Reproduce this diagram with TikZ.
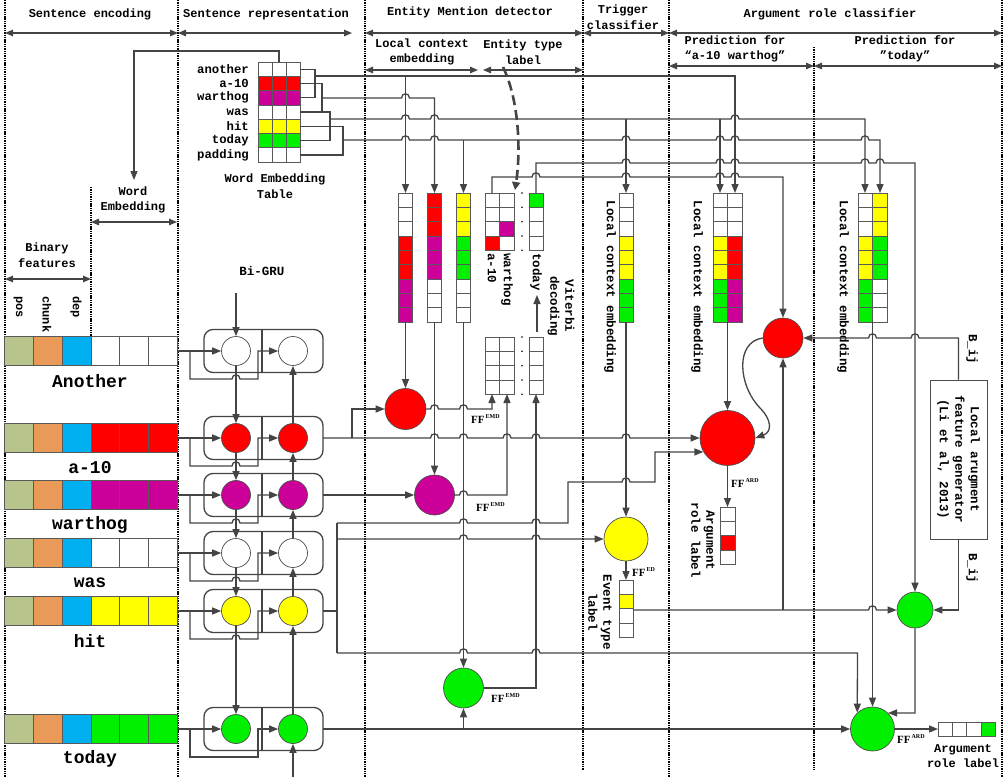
\documentclass[tikz,border=0pt]{standalone}
\usepackage{fontspec}
\setmainfont{Liberation Mono}
\newfontfamily\ffserif{Liberation Serif}
\usetikzlibrary{arrows.meta}
\definecolor{lc}{RGB}{68,68,68}
\definecolor{rd}{RGB}{255,0,0}
\definecolor{mg}{RGB}{204,0,153}
\definecolor{yl}{RGB}{255,255,0}
\definecolor{gn}{RGB}{0,240,0}
\definecolor{ol}{RGB}{183,197,140}
\definecolor{og}{RGB}{233,153,88}
\definecolor{bl}{RGB}{0,176,240}
\definecolor{wh}{RGB}{255,255,255}
\newcommand\hbump[2]{-- (#1-4,#2) .. controls (#1-4,#2-5.5) and (#1+4,#2-5.5) .. (#1+4,#2)}
\newcommand\hbumpr[2]{-- (#1+4,#2) .. controls (#1+4,#2-5.5) and (#1-4,#2-5.5) .. (#1-4,#2)}
\newcommand\vecol[3]{\foreach \cc [count=\kk from 0] in {#3} {\filldraw[cellb,fill=\cc] (#1,#2+\kk*14.33) rectangle ++(14.5,14.33);}}
\newcommand\fflab[1]{{\ffserif\bfseries\fontsize{11}{12}\selectfont FF\raisebox{4.5pt}{\fontsize{6}{6}\selectfont\,#1}}}
\tikzset{
  ln/.style={draw=lc, line width=1.3pt},
  ar/.style={ln, -{Triangle[length=9pt,width=7pt]}},
  dar/.style={ln, {Triangle[length=8pt,width=6.5pt]}-{Triangle[length=8pt,width=6.5pt]}},
  sep/.style={draw=black, line width=2.4pt, dash pattern=on 1.4pt off 0.9pt},
  cellb/.style={draw=black!65, line width=0.7pt},
  circ/.style={circle, draw=black!70, line width=0.7pt, inner sep=0pt},
  hdr/.style={font=\fontsize{12}{15.5}\selectfont\bfseries, align=center, inner sep=0pt},
  tlab/.style={font=\fontsize{12.3}{14}\selectfont\bfseries, inner sep=0pt},
  rlab/.style={font=\fontsize{12.5}{15}\selectfont\bfseries, align=center, rotate=-90, inner sep=0pt},
  wlab/.style={font=\fontsize{18}{20}\selectfont\bfseries, inner sep=0pt},
  ff/.style={anchor=west, inner sep=0pt},
}
\begin{document}
\begin{tikzpicture}[x=1pt,y=-1pt]
\useasboundingbox (0,0) rectangle (1005,777);
\fill[white] (0,0) rectangle (1005,777);
% separators
\draw[sep] (5,0) -- (5,777);
\draw[sep] (178,0) -- (178,777);
\draw[sep] (365,0) -- (365,777);
\draw[sep] (583,0) -- (583,770);
\draw[sep] (669,0) -- (669,777);
\draw[sep] (814,47) -- (814,770);
\draw[sep] (1002,0) -- (1002,777);
\draw[sep] (91,187) -- (91,336);
% headers
\node[hdr] (h1) at (90,14) {Sentence encoding};
\draw[dar] (5,33) -- (178,33);
\node[hdr] (h2) at (266,14) {Sentence representation};
\draw[dar] (178,33) -- (352,33);
\node[hdr] (h3) at (470,12) {Entity Mention detector};
\draw[dar] (365,33) -- (583,33);
\node[hdr] (h4) at (422,52) {Local context\\embedding};
\draw[dar] (365,70) -- (478,70);
\node[hdr] (h5) at (523,52) {Entity type\\label};
\draw[dar] (483,70) -- (583,70);
\node[hdr] (h6) at (623,17) {Trigger\\classifier};
\draw[dar] (583,33) -- (669,33);
\node[hdr] (h7) at (830,14) {Argument role classifier};
\draw[dar] (669,33) -- (1002,33);
\node[hdr] (h8) at (735,49) {Prediction for\\“a-10 warthog”};
\draw[dar] (669,66) -- (814,66);
\node[hdr] (h9) at (905,49) {Prediction for\\”today”};
\draw[dar] (814,66) -- (1002,66);
\node[hdr] (h10) at (133,200) {Word\\Embedding};
\draw[dar] (91,222) -- (177,222);
\node[hdr] (h11) at (47,255) {Binary\\features};
\draw[dar] (5,279) -- (91,279);
\node[rlab,anchor=west,font=\fontsize{12}{14}\selectfont\bfseries] (fpos) at (18,296) {pos};
\node[rlab,anchor=west,font=\fontsize{12}{14}\selectfont\bfseries] (fchk) at (47,296) {chunk};
\node[rlab,anchor=west,font=\fontsize{12}{14}\selectfont\bfseries] (fdep) at (76,296) {dep};
% word embedding table
\foreach \cl [count=\k from 0] in {wh,rd,mg,wh,yl,gn,wh} {
  \foreach \xx in {258,272,286} {\filldraw[cellb,fill=\cl] (\xx,62+\k*14.3) rectangle ++(14,14.3);}
}
\foreach \tw [count=\k from 0] in {another,a-10,warthog,was,hit,today,padding}
  {\node[tlab,anchor=east] (tw\k) at (249,69.15+\k*14.3) {\tw};}
\node[hdr] (wet) at (275,186) {Word Embedding\\Table};
\draw[ln] (300,69.2) -- (315,69.2) -- (315,97.8) -- (300,97.8);
\draw[ln] (300,83.5) -- (322,83.5) -- (322,112.1) -- (300,112.1);
\draw[ln] (300,112.1) -- (330,112.1) -- (330,140.7) -- (300,140.7);
\draw[ln] (300,126.4) -- (343,126.4) -- (343,155) -- (300,155);
\draw[ar] (279,62) -- (279,51) -- (134,51) -- (134,180);
% long feed lines
\draw[ar] (315,76) -- (735,76) -- (735,193);
\draw[ar] (405.5,76) -- (405.5,193);
\draw[ar] (322,98) \hbump{405.5}{98} -- (434.5,98) -- (434.5,193);
\draw[ar] (330,119) \hbump{405.5}{119} \hbump{434.5}{119} \hbump{735}{119} -- (865,119) -- (865,193);
\draw[ar] (626,119) -- (626,193);
\draw[ar] (720,119) -- (720,193);
\draw[ar] (343,140) \hbump{405.5}{140} \hbump{434.5}{140} \hbump{626}{140} \hbump{720}{140} \hbump{735}{140} \hbump{865}{140} -- (880,140) -- (880,193);
\draw[ar] (463.5,140) -- (463.5,193);
% sentence encoding rows + GRU
\foreach \yc/\nm/\cl/\w in {351/an/wh/Another, 438/aa/rd/a-10, 495/wa/mg/warthog, 553/ws/wh/was, 611/hi/yl/hit, 729/to/gn/today} {
  \filldraw[cellb,fill=ol] (4,\yc-14.5) rectangle (33,\yc+14.5);
  \filldraw[cellb,fill=og] (33,\yc-14.5) rectangle (62,\yc+14.5);
  \filldraw[cellb,fill=bl] (62,\yc-14.5) rectangle (91,\yc+14.5);
  \filldraw[cellb,fill=\cl] (91,\yc-14.5) rectangle (119.5,\yc+14.5);
  \filldraw[cellb,fill=\cl] (119.5,\yc-14.5) rectangle (148,\yc+14.5);
  \filldraw[cellb,fill=\cl] (148,\yc-14.5) rectangle (177,\yc+14.5);
  \node[wlab] (w\nm) at (90,\yc+30) {\w};
  \draw[ln,rounded corners=9pt] (204,\yc-21.5) rectangle (323,\yc+21.5);
  \draw[ln] (262,\yc-21.5) -- (262,\yc+21.5);
  \node[circ,fill=\cl,minimum size=29pt] (L\nm) at (236,\yc) {};
  \node[circ,fill=\cl,minimum size=29pt] (R\nm) at (293,\yc) {};
  \draw[ar] (177,\yc) -- (L\nm.west);
}
\foreach \yc/\nm in {351/an, 438/aa, 495/wa, 553/ws, 611/hi} {
  \draw[ar] (190,\yc) -- (190,\yc+28) \hbump{236}{\yc+28} -- (258,\yc+28) -- (258,\yc) -- (R\nm.west);
}
\draw[ar] (190,729) -- (190,757) -- (258,757) -- (258,729) -- (Rto.west);
\node[hdr,font=\fontsize{12.5}{14}\selectfont\bfseries] (bigru) at (262,271) {Bi-GRU};
\draw[ar] (236,293) -- (Lan.north);
\draw[ar] (Lan.south) -- (Laa.north);
\draw[ar] (Laa.south) -- (Lwa.north);
\draw[ar] (Lwa.south) -- (Lws.north);
\draw[ar] (Lws.south) -- (Lhi.north);
\draw[ar] (Lhi.south) -- (Lto.north);
\draw[ar] (293,777) -- (Rto.south);
\draw[ar] (Rto.north) -- (Rhi.south);
\draw[ar] (Rhi.north) -- (Rws.south);
\draw[ar] (Rws.north) -- (Rwa.south);
\draw[ar] (Rwa.north) -- (Raa.south);
\draw[ar] (Raa.north) -- (Ran.south);
% EMD vectors
\vecol{398}{193}{wh,wh,wh,rd,rd,rd,mg,mg,mg}
\vecol{427}{193}{rd,rd,rd,mg,mg,mg,wh,wh,wh}
\vecol{456}{193}{yl,yl,yl,gn,gn,gn,wh,wh,wh}
% entity type matrices
\vecol{485}{193}{wh,wh,wh,rd}
\vecol{499.5}{193}{wh,wh,mg,wh}
\vecol{529}{193}{gn,wh,wh,wh}
\vecol{485}{337}{wh,wh,wh,wh}
\vecol{499.5}{337}{wh,wh,wh,wh}
\vecol{529}{337}{wh,wh,wh,wh}
\foreach \k in {0,...,4} {\fill[black] (522,193+\k*14.33) circle[radius=0.9pt]; \fill[black] (522,337+\k*14.33) circle[radius=0.9pt];}
\node[rlab,anchor=west] (la10) at (492,253) {a-10};
\node[rlab,anchor=west] (lwar) at (507,253) {warthog};
\node[rlab,anchor=west] (ltod) at (536,253) {today};
\node[rlab] (vit) at (561,306) {Viterbi\\decoding};
\draw[ar] (537,332) -- (537,295);
\draw[lc, line width=2.6pt, dash pattern=on 10pt off 5pt, -{Triangle[length=8pt,width=8pt]}] (503,67) .. controls (519,100) and (521,150) .. (515,190);
% EMD circles
\node[circ,fill=rd,minimum size=41pt] (re) at (405.5,409) {};
\node[circ,fill=mg,minimum size=40pt] (me) at (434.5,495) {};
\node[circ,fill=gn,minimum size=40pt] (ge) at (463.5,688) {};
\draw[ar] (405.5,322) -- (re.north);
\draw[ar] (434.5,322) -- (me.north);
\draw[ar] (463.5,322) -- (ge.north);
\draw[ar] (re.east) \hbump{434.5}{409} \hbump{463.5}{409} -- (492,409) -- (492,394);
\draw[ar] (me.east) \hbump{463.5}{495} -- (507,495) -- (507,394);
\draw[ar] (ge.east) -- (536,688) -- (536,394);
\node[ff] (ff1) at (471,419) {\fflab{EMD}};
\node[ff] (ff2) at (476,507) {\fflab{EMD}};
\node[ff] (ff3) at (491,698) {\fflab{EMD}};
% trigger
\vecol{619}{193}{wh,wh,wh,yl,yl,yl,gn,gn,gn}
\node[rlab] (lce1) at (610,287) {Local context embedding};
\node[circ,fill=yl,minimum size=44pt] (yt) at (626,539) {};
\draw[ar] (626,322) -- (yt.north);
\draw[ar] (yt.south) -- (626,580);
\vecol{619}{580}{wh,yl,wh,wh}
\node[ff] (ff4) at (632,572) {\fflab{ED}};
\node[rlab] (etl) at (600,612) {Event type\\label};
% argument classifier 1
\vecol{713}{193}{wh,wh,wh,yl,yl,yl,gn,gn,gn}
\vecol{727.5}{193}{wh,wh,wh,rd,rd,rd,mg,mg,mg}
\node[rlab] (lce2) at (697,287) {Local context embedding};
\node[circ,fill=rd,minimum size=55pt] (br) at (727.5,438) {};
\draw[ar] (727.5,322) -- (br.north);
\draw[ar] (br.south) -- (727.5,507);
\vecol{720.5}{507}{wh,wh,rd,wh}
\node[ff] (ff5) at (731,483) {\fflab{ARD}};
\node[rlab] (arl1) at (703,540) {Argument\\role label};
\node[circ,fill=rd,minimum size=40pt] (sr) at (783,338) {};
% argument classifier 2
\vecol{858}{193}{wh,wh,wh,yl,yl,yl,gn,gn,gn}
\vecol{872.5}{193}{yl,yl,yl,gn,gn,gn,wh,wh,wh}
\node[rlab] (lce3) at (843,287) {Local context embedding};
\node[circ,fill=gn,minimum size=36pt] (sg) at (915,610) {};
\node[circ,fill=gn,minimum size=44pt] (bg) at (872.5,729) {};
\draw[ar] (872.5,322) -- (bg.north);
% cross connections
\draw[ar] (536,193) -- (536,163) \hbump{626}{163} \hbump{720}{163} \hbump{735}{163} \hbump{865}{163} \hbump{880}{163} -- (915,163) -- (sg.north);
\draw[ar] (492,193) -- (492,177) \hbump{536}{177} \hbump{626}{177} \hbump{720}{177} \hbump{735}{177} -- (783,177) -- (sr.north);
\draw[ar] (783,610) -- (sr.south);
\draw[ar] (sr.west) .. controls (735,342) and (738,385) .. (760,408) .. controls (772,420) and (772,432) .. (br.east);
% GRU outputs
\draw[ar] (323,495) -- (me.west);
\draw[ar] (323,438) \hbump{434.5}{438} \hbump{463.5}{438} \hbump{507}{438} \hbump{536}{438} \hbump{626}{438} -- (br.west);
\draw[ar] (352,438) -- (352,409) -- (re.west);
\draw[ln] (323,611) -- (337,611);
\draw[ln] (337,523) -- (337,653);
\draw[ar] (337,523) \hbump{463.5}{523} \hbump{536}{523} -- (568,523) -- (568,482) \hbump{626}{482} -- (655,482) -- (655,452) -- (br.210.6);
\draw[ar] (337,539) \hbump{463.5}{539} \hbump{536}{539} -- (yt.west);
\draw[ar] (337,653) \hbump{463.5}{653} \hbump{536}{653} -- (857.5,653) -- (bg.133);
\draw[ar] (323,729) -- (bg.west);
\draw[ar] (463.5,729) -- (ge.south);
\draw[ar] (633.5,610) \hbump{872.5}{610} -- (sg.west);
\draw[ar] (sg.south) -- (915,713) -- (bg.46.7);
\draw[ar] (bg.east) -- (938,729);
\foreach \xx/\cl [count=\k] in {938/wh,952.3/wh,966.6/wh,980.9/gn} {\filldraw[cellb,fill=\cl] (\xx,722) rectangle ++(14.3,14.3);}
\node[hdr] (arl2) at (963,756) {Argument\\role label};
\node[ff] (ff6) at (897,739) {\fflab{ARD}};
% local argument feature generator
\node[draw=black!70, line width=0.8pt, rotate=-90, minimum width=159pt, minimum height=57pt, font=\fontsize{12.5}{15.5}\selectfont\bfseries, align=center, inner sep=0pt] (lagf) at (958.5,459.5) {Local arugment\\feature generator\\(Li et al, 2013)};
\draw[ar] (lagf.west) -- (958.5,338) \hbumpr{915}{338} \hbumpr{872.5}{338} -- (sr.east);
\draw[ar] (lagf.east) -- (958.5,610) -- (sg.east);
\node[rlab] (bij1) at (972,349) {B\_ij};
\node[rlab] (bij2) at (972,568) {B\_ij};
\end{tikzpicture}
\end{document}
